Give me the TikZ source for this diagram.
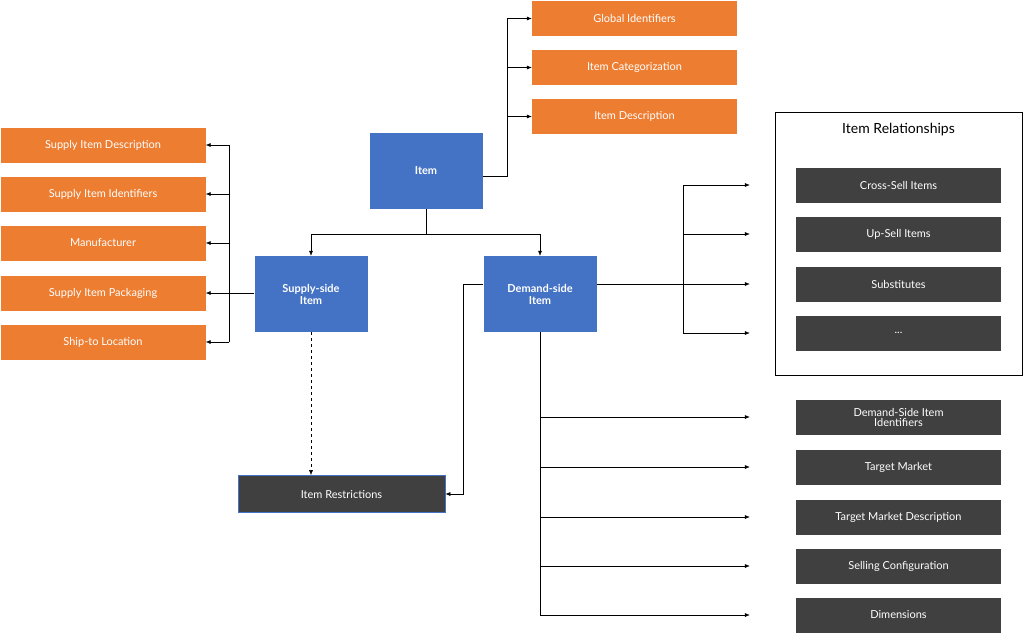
\documentclass[tikz,border=0pt]{standalone}
\usepackage{fontspec}
\setmainfont{Lato}
\usepackage{xcolor}
\usepackage{tikz}
\usetikzlibrary{arrows.meta}
\definecolor{orng}{HTML}{ED7D31}
\definecolor{blu}{HTML}{4472C4}
\definecolor{drk}{HTML}{404040}

\begin{document}
\begin{tikzpicture}[x=1pt, y=-1pt,
        orangebox/.style={fill=orng, text=white, minimum width=205pt, minimum height=35pt, inner sep=0pt, font=\fontsize{11}{12}\selectfont},
        bluebox/.style={fill=blu, text=white, minimum width=113pt, minimum height=76pt, align=center, font=\bfseries\fontsize{11}{12}\selectfont},
        darkbox/.style={fill=drk, text=white, minimum width=205pt, minimum height=35pt, inner sep=0pt, align=center, font=\fontsize{11}{12}\selectfont},
        arr/.style={-{Latex[length=5pt,width=4pt]}, black, line width=0.5pt},
        ln/.style={black, line width=0.5pt}]
        \useasboundingbox (0,0) rectangle (1024,633);
        % top
        \node (glob) at (634.5, 18.5) [orangebox] {Global Identifiers};
        \node (cat) at (634.5, 67.5) [orangebox] {Item Categorization};
        \node (desc) at (634.5, 116.5) [orangebox] {Item Description};
        \node (item) at (426, 171) [bluebox] {Item};
        \node (supply) at (311, 294) [bluebox] {Supply-side\\Item};
        \node (demand) at (540, 294) [bluebox] {Demand-side\\Item};
        % left
        \node (sdesc) at (103, 145) [orangebox] {Supply Item Description};
        \node (sid) at (103, 194) [orangebox] {Supply Item Identifiers};
        \node (manu) at (103, 243) [orangebox] {Manufacturer};
        \node (spack) at (103, 293) [orangebox] {Supply Item Packaging};
        \node (ship) at (103, 342) [orangebox] {Ship-to Location};
        \node (restr) at (341.5, 494) [darkbox, draw=blu, line width=0.8pt, minimum width=207pt, minimum height=37pt] {Item Restrictions};
        % relationships
        \node (rel) at (898.5, 243.5) [draw, line width=0.8pt, minimum width=247pt, minimum height=263pt] {};
        \node (reltitle) at (898.5, 130) [font=\fontsize{14}{16}\selectfont] {Item Relationships};
        \node (cross) at (898.5, 185) [darkbox] {Cross-Sell Items};
        \node (up) at (898.5, 234) [darkbox] {Up-Sell Items};
        \node (subs) at (898.5, 284) [darkbox] {Substitutes};
        \node (dots) at (898.5, 333) [darkbox] {...};
        \node (did) at (898.5, 417) [darkbox] {Demand-Side Item\\[-2pt]Identifiers};
        \node (tm) at (898.5, 467) [darkbox] {Target Market};
        \node (tmd) at (898.5, 517) [darkbox] {Target Market Description};
        \node (sell) at (898.5, 566) [darkbox] {Selling Configuration};
        \node (dim) at (898.5, 615) [darkbox] {Dimensions};
        % junctions
        \coordinate (j1) at (507, 176);
        \coordinate (j2) at (426, 234);
        \coordinate (j3) at (229, 293);
        \coordinate (j4) at (463, 284);
        \coordinate (j5) at (683, 284);
        % item to top boxes
        \draw [ln] (item.east |- j1) -- (j1) -- (j1 |- glob);
        \foreach \n in {glob, cat, desc}
            \draw [arr] (j1 |- \n) -- (\n.west);
        % item to sides
        \draw [ln] (item.south) -- (j2);
        \draw [arr] (j2) -| (supply.north);
        \draw [arr] (j2) -| (demand.north);
        % supply
        \draw [arr] (supply.west |- j3) -- (spack.east);
        \draw [ln] (j3 |- sdesc) -- (j3 |- ship);
        \foreach \n in {sdesc, sid, manu, ship}
            \draw [arr] (j3 |- \n) -- (\n.east);
        \draw [arr, dashed] (supply.south) -- (supply.south |- restr.north);
        % demand
        \draw [arr] (demand.west |- j4) -- (j4) |- (restr.east);
        \draw [ln] (demand.east |- j5) -- (j5);
        \draw [ln] (j5 |- cross) -- (j5 |- dots);
        \foreach \n in {cross, up, subs, dots}
            \draw [arr] (j5 |- \n) -- ([xshift=-46pt]\n.west);
        \draw [ln] (demand.south) -- (demand.south |- dim);
        \foreach \n in {did, tm, tmd, sell, dim}
            \draw [arr] (demand.south |- \n) -- ([xshift=-46pt]\n.west);
\end{tikzpicture}
\end{document}
